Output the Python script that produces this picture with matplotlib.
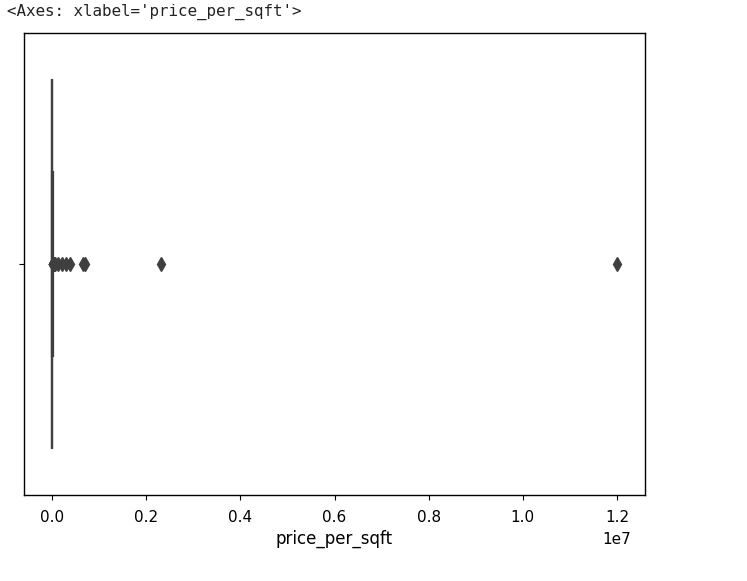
import matplotlib
matplotlib.use("Agg")
import matplotlib.pyplot as plt

# Box statistics for price_per_sqft (approximate)
whisker_low = 267.0
q1 = 4267.0
median = 5438.0
q3 = 7318.0
whisker_high = 11890.0
fliers = [12500, 14000, 16000, 18500, 21000, 24000, 28000, 33000, 40000, 48000,
          64000, 127000, 212000, 297000, 382000, 658000, 700000, 2315000, 12000000]
xlabel = "price_per_sqft"
header = "<Axes: xlabel='price_per_sqft'>"
offset_label = "1e7"

gray = "#3f3f3f"
fig = plt.figure(figsize=(7.47, 5.81), dpi=100)
ax = fig.add_axes([24/747, (581-495)/581, 621/747, 462/581])

stats = [dict(whislo=whisker_low, q1=q1, med=median, q3=q3, whishi=whisker_high,
              fliers=fliers, label="")]
ax.bxp(stats, positions=[0], widths=0.8, vert=False, patch_artist=True,
       boxprops=dict(facecolor="#3274a1", edgecolor=gray, linewidth=1.6),
       whiskerprops=dict(color=gray, linewidth=1.6),
       capprops=dict(color=gray, linewidth=1.6),
       medianprops=dict(color=gray, linewidth=1.6),
       flierprops=dict(marker="d", markerfacecolor=gray, markeredgecolor=gray,
                       markersize=7.5, linestyle="none"),
       capwidths=0.4)

ax.set_ylim(0.5, -0.5)
ax.set_yticks([0])
ax.set_yticklabels([""])
ax.set_xlim(-5.95e5, 1.2595e7)
ax.set_xticks([0, 2e6, 4e6, 6e6, 8e6, 10e6, 12e6])
ax.set_xticklabels(["0.0", "0.2", "0.4", "0.6", "0.8", "1.0", "1.2"])
ax.tick_params(axis="both", labelsize=11, length=3.5, width=0.8, colors="black")
ax.tick_params(axis="x", pad=7)
ax.set_xlabel(xlabel, fontsize=12, labelpad=4)
for s in ax.spines.values():
    s.set_linewidth(1.0)
    s.set_color("black")

fig.text(617/747, 1 - 540/581, offset_label, fontsize=11, ha="center", va="center")
fig.text(7/747, 1 - 12/581, header, family="DejaVu Sans Mono", fontsize=11.4,
         va="center", ha="left", color="#222222")

fig.savefig("out.png", dpi=100)
